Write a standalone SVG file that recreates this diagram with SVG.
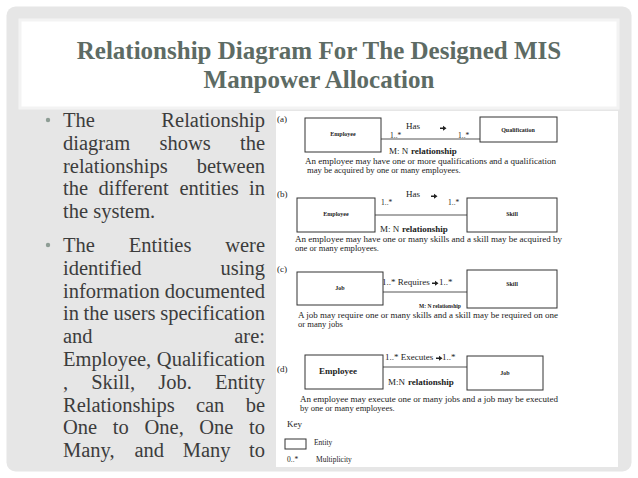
<svg xmlns="http://www.w3.org/2000/svg" width="638" height="478" viewBox="0 0 638 478">
<style>
.title{font-family:"Liberation Serif","Times New Roman",serif;font-weight:bold;font-size:25px;fill:#5d6b64;text-anchor:middle}
.body{font-family:"Liberation Serif","Times New Roman",serif;font-size:20.5px;fill:#3c3c3c}
.end{text-anchor:end}
.bul{fill:#8e9d95}
.s{font-family:"Liberation Serif","Times New Roman",serif;font-size:9px;fill:#222}
.d{font-family:"Liberation Serif","Times New Roman",serif;font-size:8.6px;fill:#222}
.m{font-family:"Liberation Serif","Times New Roman",serif;font-size:7.5px;fill:#222}
.ent{font-family:"Liberation Serif","Times New Roman",serif;font-size:6px;font-weight:bold;fill:#222;text-anchor:middle}
.b{font-weight:bold}
.box{fill:#fff;stroke:#333;stroke-width:1}
.ln{stroke:#555;stroke-width:1;fill:none}
.ar{fill:#222}
</style>
<rect x="0" y="0" width="638" height="478" fill="#fff"/>
<rect x="6.5" y="6.5" width="625" height="465" rx="9" fill="#e6e6e6"/>
<rect x="20" y="20" width="598" height="88" fill="#fff" stroke="#f3f3f3" stroke-width="3"/>
<rect x="276" y="111" width="342" height="356" fill="#fff"/>
<text class="title" x="319" y="59">Relationship  Diagram  For The Designed MIS</text>
<text class="title" x="319" y="88">Manpower Allocation</text>

<g id="bullets">
<circle class="bul" cx="48" cy="120" r="2.2"/>
<circle class="bul" cx="48" cy="245" r="2.2"/>
</g>
<g id="body-text" class="body">
<text x="63" y="127">The</text><text class="end" x="265" y="127">Relationship</text>
<text x="63" y="150">diagram</text><text x="159.5" y="150">shows</text><text class="end" x="265" y="150">the</text>
<text x="63" y="172.5">relationships</text><text class="end" x="265" y="172.5">between</text>
<text x="63" y="195">the</text><text x="98.5" y="195">different</text><text x="179.5" y="195">entities</text><text class="end" x="265" y="195">in</text>
<text x="63" y="218">the system.</text>
<text x="63" y="252">The</text><text x="128.8" y="252">Entities</text><text class="end" x="265" y="252">were</text>
<text x="63" y="275">identified</text><text class="end" x="265" y="275">using</text>
<text x="63" y="297.5">information</text><text class="end" x="265" y="297.5">documented</text>
<text x="63" y="320">in</text><text x="83.6" y="320">the</text><text x="113.4" y="320">users</text><text class="end" x="265" y="320">specification</text>
<text x="63" y="343">and</text><text class="end" x="265" y="343">are:</text>
<text x="63" y="366">Employee,</text><text class="end" x="265" y="366">Qualification</text>
<text x="63" y="389">,</text><text x="91.2" y="389">Skill,</text><text x="158.2" y="389">Job.</text><text class="end" x="265" y="389">Entity</text>
<text x="63" y="411.5">Relationships</text><text x="195.9" y="411.5">can</text><text class="end" x="265" y="411.5">be</text>
<text x="63" y="434">One</text><text x="112.8" y="434">to</text><text x="144.5" y="434">One,</text><text x="199.3" y="434">One</text><text class="end" x="265" y="434">to</text>
<text x="63" y="457">Many,</text><text x="134.5" y="457">and</text><text x="182.7" y="457">Many</text><text class="end" x="265" y="457">to</text>
</g>

<g id="connectors">
<line class="ln" x1="381" y1="139" x2="480" y2="139"/>
<line class="ln" x1="375" y1="215" x2="467" y2="215"/>
<line class="ln" x1="383" y1="292" x2="467" y2="292"/>
<line class="ln" x1="383" y1="367" x2="467" y2="367"/>
<path class="ar" d="M440 127.6h3v-1.8l3.5 2.5-3.5 2.5v-1.8h-3z"/>
<path class="ar" d="M431 195.6h3v-1.8l3.5 2.5-3.5 2.5v-1.8h-3z"/>
<path class="ar" d="M432 282.6h3v-1.8l3.5 2.5-3.5 2.5v-1.8h-3z"/>
<path class="ar" d="M436 357.6h3v-1.8l3.5 2.5-3.5 2.5v-1.8h-3z"/>
</g>

<g id="diagram-a">
<text class="s" x="277" y="122">(a)</text>
<text class="s" x="406" y="129">Has</text>
<text class="m" x="390" y="137.5">1..*</text>
<text class="m" x="458" y="137.5">1..*</text>
<text class="s" x="389" y="153.5">M: N</text>
<text class="s b" x="411" y="153.5">relationship</text>
<text class="d" x="305" y="163.5" textLength="251" lengthAdjust="spacingAndGlyphs">An employee may have one or more qualifications and a qualification</text>
<text class="d" x="307" y="172.5">may be acquired by one or many employees.</text>
</g>
<g id="node-a-employee"><rect class="box" x="305" y="118" width="76" height="34"/><text class="ent" x="343" y="136">Employee</text></g>
<g id="node-a-qualification"><rect class="box" x="480" y="117" width="77" height="25"/><text class="ent" x="518" y="132">Qualification</text></g>

<g id="diagram-b">
<text class="s" x="277" y="197">(b)</text>
<text class="s" x="406" y="197">Has</text>
<text class="m" x="381" y="205">1..*</text>
<text class="m" x="448" y="205">1..*</text>
<text class="s" x="380" y="231.5">M: N</text>
<text class="s b" x="402" y="231.5">relationship</text>
<text class="d" x="295" y="241.5" textLength="267" lengthAdjust="spacingAndGlyphs">An employee may have one or many skills and a skill may be acquired by</text>
<text class="d" x="295" y="250.5">one or many employees.</text>
</g>
<g id="node-b-employee"><rect class="box" x="297" y="198" width="78" height="34"/><text class="ent" x="336" y="216">Employee</text></g>
<g id="node-b-skill"><rect class="box" x="467" y="198" width="90" height="34"/><text class="ent" x="512" y="216">Skill</text></g>

<g id="diagram-c">
<text class="s" x="277" y="272">(c)</text>
<text class="s" x="382" y="285">1..* Requires</text>
<text class="s" x="439" y="285">1..*</text>
<text class="ent" x="440" y="308" style="font-size:5.5px">M: N relationship</text>
<text class="d" x="298" y="318" textLength="260" lengthAdjust="spacingAndGlyphs">A job may require one or many skills and a skill may be required on one</text>
<text class="d" x="298" y="327">or many jobs</text>
</g>
<g id="node-c-job"><rect class="box" x="297" y="272" width="86" height="33"/><text class="ent" x="340" y="290">Job</text></g>
<g id="node-c-skill"><rect class="box" x="467" y="270" width="90" height="38"/><text class="ent" x="512" y="286">Skill</text></g>

<g id="diagram-d">
<text class="s" x="277" y="372">(d)</text>
<text class="s" x="385" y="360">1..*  Executes</text>
<text class="s" x="442" y="360">1..*</text>
<text class="s" x="388" y="385">M:N</text>
<text class="s b" x="408" y="385">relationship</text>
<text class="d" x="300" y="401.5" textLength="258" lengthAdjust="spacingAndGlyphs">An employee may execute one or many jobs and a job may be executed</text>
<text class="d" x="300" y="410.5">by one or many employees.</text>
</g>
<g id="node-d-employee"><rect class="box" x="305" y="355" width="78" height="34"/><text class="s b" x="319" y="374">Employee</text></g>
<g id="node-d-job"><rect class="box" x="467" y="356" width="76" height="34"/><text class="ent" x="505" y="375">Job</text></g>

<g id="key">
<text class="s" x="287" y="427">Key</text>
<rect class="box" x="285" y="439" width="21" height="10"/>
<text class="m" x="314" y="445">Entity</text>
<text class="m" x="287" y="462">0..*</text>
<text class="m" x="316" y="462">Multiplicity</text>
</g>
</svg>
